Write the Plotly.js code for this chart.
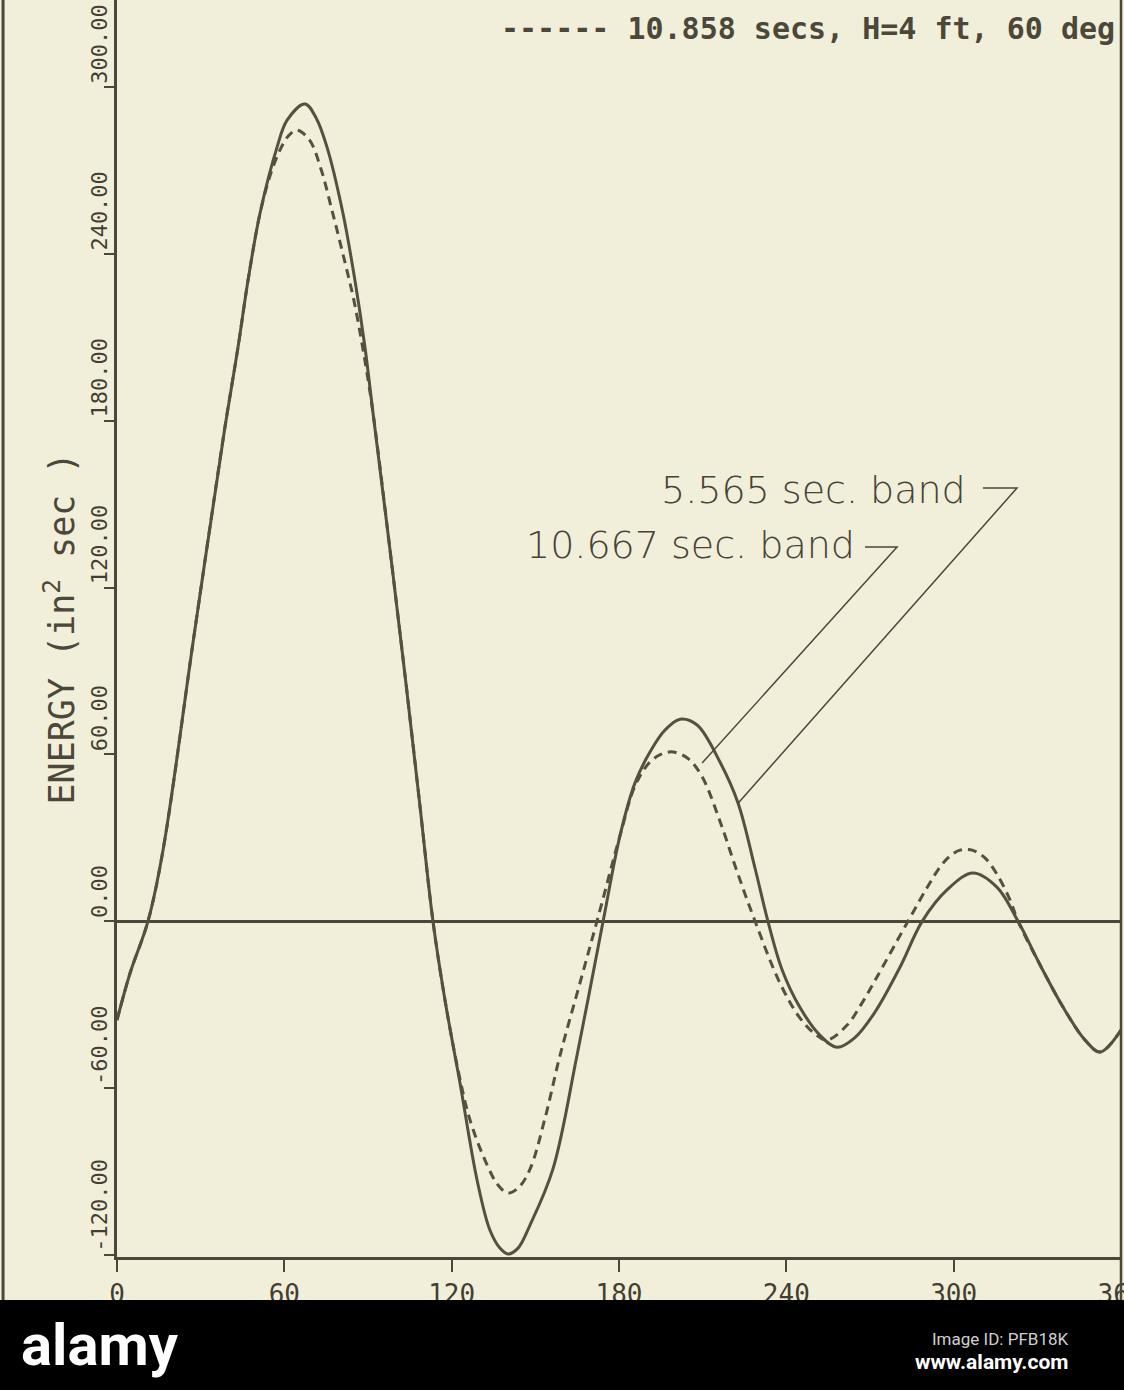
<!DOCTYPE html>
<html>
<head>
<meta charset="utf-8">
<script src="https://cdn.plot.ly/plotly-3.0.1.min.js"></script>
<style>
  html, body { margin: 0; padding: 0; background: #f1efd9; }
  #chart { width: 1124px; height: 1390px; }
</style>
</head>
<body>
<div id="chart"></div>
<script>
// ---- data ----
const xSolid = [0, 4.7, 11.1, 16.5, 27.6, 38.7, 43.4, 47.0, 51.3, 57.4, 61.0, 67.4, 71.4, 75.3, 81.0, 85.3, 88.9, 91.8, 97.9, 103.6, 108.6, 113.3, 117.6, 123.0, 129.1, 133.7, 137.3, 140.2, 143.8, 148.1, 156.3, 164.9, 174.3, 180.4, 185.7, 191.1, 196.5, 201.9, 208.0, 216.2, 222.7, 228.8, 233.4, 238.5, 244.9, 252.1, 258.2, 264.6, 271.8, 280.8, 288.7, 297.6, 306.9, 315.5, 323.1, 331.0, 339.2, 347.1, 352.5, 360];
const ySolid = [-35.5, -18.6, 0, 25.6, 102.6, 177.7, 206.5, 230.6, 254.7, 278.4, 288.1, 293.9, 288.9, 278.4, 254.7, 230.6, 206.5, 182.8, 133.5, 85.7, 41.8, 0, -28.3, -58.2, -93.0, -111.0, -117.5, -119.6, -117.5, -109.2, -89.1, -48.4, 0, 31.0, 49.7, 60.9, 68.8, 72.7, 70.6, 57.3, 42.5, 19.0, 0, -17.5, -31.0, -41.0, -45.3, -41.8, -32.6, -16.4, 0, 11.3, 17.4, 12.3, 0, -15.7, -30.8, -42.7, -47.0, -39.1];

const xDashed = [0, 4.7, 11.1, 16.5, 27.6, 38.7, 43.4, 47.0, 51.3, 55.0, 58.5, 61.5, 64.5, 69.0, 73.0, 77.0, 81.0, 85.0, 89.0, 91.8, 97.9, 103.6, 108.6, 113.3, 117.6, 122.3, 126.6, 132.7, 136.6, 140.2, 144.1, 148.1, 153.5, 158.8, 165.3, 172.1, 180.4, 185.7, 191.1, 195.4, 199.4, 204.8, 209.8, 216.2, 222.3, 228.8, 237.7, 244.9, 250.3, 254.6, 261.8, 267.1, 272.5, 283.6, 290.4, 295.1, 298.7, 302.3, 306.6, 311.2, 315.5, 320.2, 323.1, 331.0, 339.2, 347.1, 352.5, 360];
const yDashed = [-35.5, -18.6, 0, 25.6, 102.6, 177.7, 206.5, 230.6, 254.7, 268.5, 277.5, 282.5, 284.5, 281, 271, 256, 240, 223, 201, 182.8, 133.5, 85.7, 41.8, 0, -28.3, -53.5, -71.5, -87.6, -94.8, -97.7, -95.6, -89.1, -70.7, -48.4, -24.7, 0, 31.0, 48.6, 57.3, 60.2, 60.9, 58.5, 52.0, 36.0, 18.0, 0, -22.2, -34.8, -40.5, -42.7, -37.3, -29.4, -20.0, 0, 12.0, 19.5, 23.5, 25.6, 25.6, 22.8, 17.0, 7.7, 0, -15.7, -30.8, -42.7, -47.0, -39.1];

const xTickVals = [0, 60, 120, 180, 240, 300, 360];
const xTickText = ['0', '60', '120', '180', '240', '300', '360'];
const yTickVals = [-120, -60, 0, 60, 120, 180, 240, 300];
const yTickText = ['-120.00', '-60.00', '0.00', '60.00', '120.00', '180.00', '240.00', '300.00'];

const legendText = '------ 10.858 secs, H=4 ft, 60 deg';
const bandLabels = ['5.565 sec. band', '10.667 sec. band'];
const yTitle = 'ENERGY (in<sup>2</sup> sec )';
// ---------------------------------------

const ink = '#4b473a';
const curve = '#55503f';
const mono = 'DejaVu Sans Mono, monospace';
const NB = '\u00a0';

// rotated labels are centred on their tick; pad them (monospace) so that the
// visible text starts at the tick and reads upwards, as in the plotter output
const yTickDisplay = yTickText.map(t => NB.repeat(t.length) + t);

const traces = [
  { x: xSolid, y: ySolid, mode: 'lines', line: { color: curve, width: 3, shape: 'spline', smoothing: 1 }, showlegend: false, hoverinfo: 'skip' },
  { x: xDashed, y: yDashed, mode: 'lines', line: { color: curve, width: 3, shape: 'spline', smoothing: 1, dash: '9px,6px' }, showlegend: false, hoverinfo: 'skip' }
];

const layout = {
  width: 1124, height: 1390,
  margin: { l: 117, r: 3, t: 0, b: 133 },
  paper_bgcolor: '#f1efd9',
  plot_bgcolor: '#f1efd9',
  showlegend: false,
  xaxis: {
    range: [0, 360], tickvals: xTickVals, ticktext: xTickText,
    showgrid: false, zeroline: false, showline: true, linecolor: ink, linewidth: 3,
    ticks: 'outside', ticklen: 12, tickwidth: 2, tickcolor: ink,
    ticklabeloverflow: 'allow',
    tickfont: { family: mono, size: 26, color: '#423e32' }
  },
  yaxis: {
    range: [-120.7, 331.3], tickvals: yTickVals, ticktext: yTickDisplay,
    showgrid: false, zeroline: true, zerolinecolor: ink, zerolinewidth: 2.5,
    showline: true, linecolor: ink, linewidth: 3,
    ticks: 'outside', ticklen: 10, tickwidth: 2, tickcolor: ink,
    tickangle: -90, ticklabeloverflow: 'allow', ticklabelstandoff: -12,
    tickfont: { family: mono, size: 22, color: '#423e32' },
    title: { text: NB + NB + NB + yTitle, font: { family: mono, size: 35, color: ink }, standoff: 2 }
  },
  shapes: [
    { type: 'line', xref: 'paper', yref: 'paper', x0: -0.1135, x1: -0.1135, y0: -0.0342, y1: 1, line: { color: ink, width: 3 } },
    { type: 'line', xref: 'paper', yref: 'paper', x0: 1, x1: 1, y0: -0.0342, y1: 1, line: { color: ink, width: 2.5 } },
    { type: 'path', xref: 'x', yref: 'y', path: 'M310.5,155.8 L322.7,155.8 L222.7,42.5', line: { color: ink, width: 1.5 } },
    { type: 'path', xref: 'x', yref: 'y', path: 'M268.2,134.6 L279.7,134.6 L209.8,56.9', line: { color: ink, width: 1.5 } },
    { type: 'rect', xref: 'paper', yref: 'paper', x0: -0.2, x1: 1.1, y0: -0.2, y1: -0.0342, fillcolor: '#000000', line: { width: 0 }, layer: 'above' }
  ],
  annotations: [
    { text: legendText, xref: 'paper', yref: 'paper', x: 0.9965, y: 1 - 28 / 1257, xanchor: 'right', yanchor: 'middle', showarrow: false,
      font: { family: mono, size: 30, color: ink, weight: 'bold' } },
    { text: bandLabels[0], xref: 'x', yref: 'y', x: 305.1, y: 155.1, xanchor: 'right', yanchor: 'middle', showarrow: false,
      font: { family: 'DejaVu Sans, sans-serif', size: 38, color: '#46433a', weight: 200 } },
    { text: bandLabels[1], xref: 'x', yref: 'y', x: 265.3, y: 135.3, xanchor: 'right', yanchor: 'middle', showarrow: false,
      font: { family: 'DejaVu Sans, sans-serif', size: 38, color: '#46433a', weight: 200 } },
    { text: '<b>alamy</b>', xref: 'paper', yref: 'paper', x: -0.017, y: -0.070, xanchor: 'center', yanchor: 'middle', showarrow: false,
      font: { family: 'Liberation Sans Narrow, Roboto, sans-serif', size: 58, color: '#ffffff' } },
    { text: 'Image ID: PFB18K', xref: 'paper', yref: 'paper', x: 0.949, y: -0.0652, xanchor: 'right', yanchor: 'middle', showarrow: false,
      font: { family: 'Liberation Sans Narrow, Roboto, sans-serif', size: 17, color: '#d0d0d0' } },
    { text: '<b>www.alamy.com</b>', xref: 'paper', yref: 'paper', x: 0.949, y: -0.0835, xanchor: 'right', yanchor: 'middle', showarrow: false,
      font: { family: 'Liberation Sans Narrow, Roboto, sans-serif', size: 21, color: '#ffffff' } }
  ]
};

Plotly.newPlot('chart', traces, layout, { staticPlot: true, displayModeBar: false });
</script>
</body>
</html>
